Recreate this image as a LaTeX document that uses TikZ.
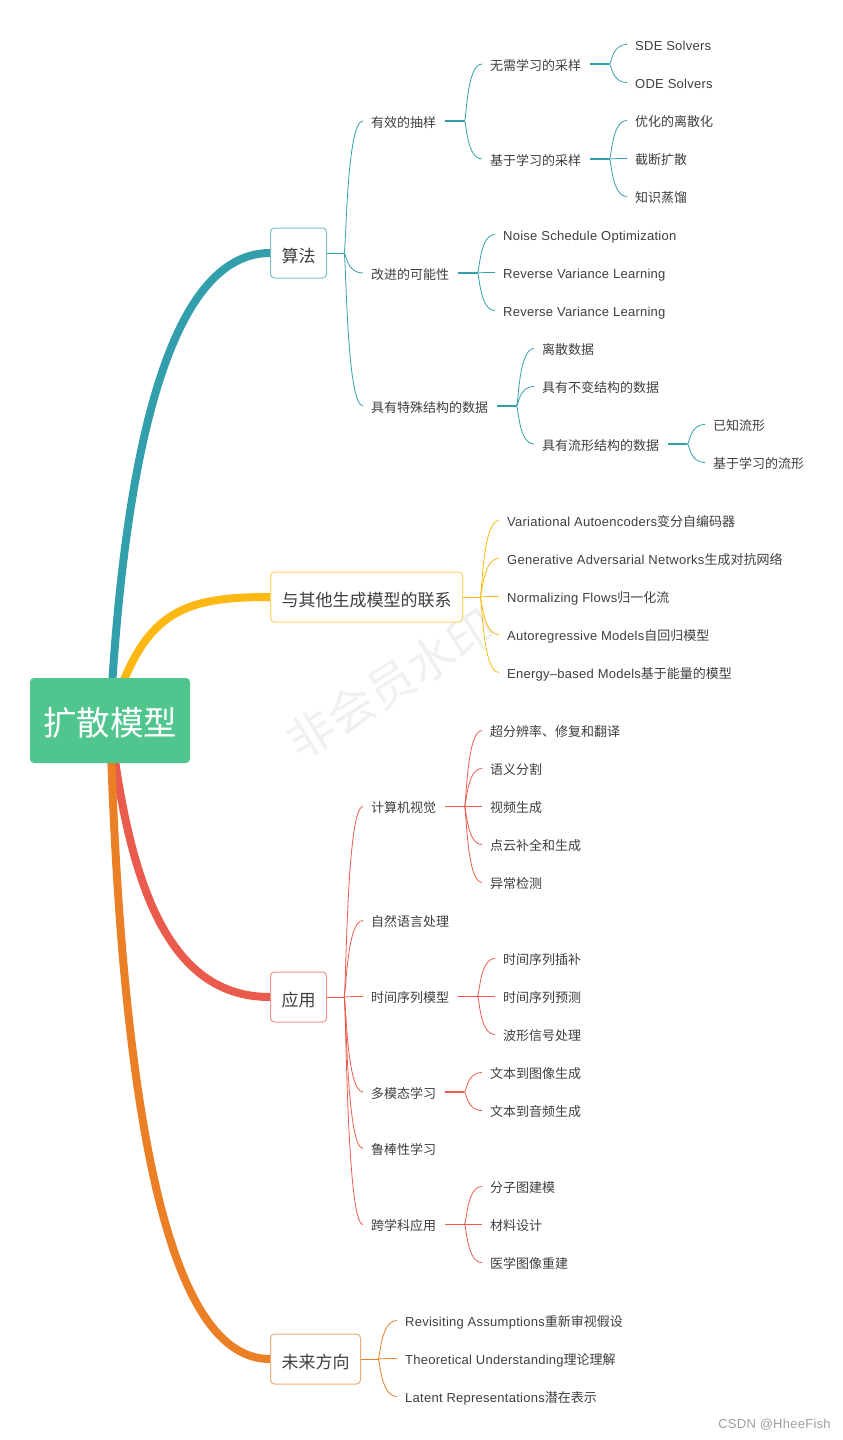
\documentclass[tikz,border=0pt]{standalone}
\usepackage{fontspec}
\setmainfont{Noto Sans CJK SC}
\newfontfamily\latf[LetterSpace=2]{Liberation Sans}
\newcommand{\lat}[1]{{\latf #1}}
\usetikzlibrary{backgrounds,calc}
\definecolor{cteal}{HTML}{339FAD}
\definecolor{cyel}{HTML}{FDB813}
\definecolor{cred}{HTML}{EB5B4D}
\definecolor{cora}{HTML}{EA7F25}
\definecolor{cgreen}{HTML}{50C58E}
\definecolor{ctxt}{HTML}{3E3E3E}
\tikzset{
  x=1pt,y=-1pt,
  rootbox/.style={fill=cgreen,rounded corners=4pt,text=white,inner sep=0pt,minimum width=160pt,minimum height=85pt,font=\fontsize{33.5pt}{36pt}\selectfont,text height=33pt,text depth=3pt},
  mainbox/.style={draw=#1!65,fill=white,line width=1pt,rounded corners=4pt,text=ctxt,inner sep=0pt,minimum height=50pt,font=\fontsize{17pt}{20pt}\selectfont,text height=23pt,text depth=4pt,anchor=west},
  leaf/.style={anchor=west,inner xsep=8pt,inner ysep=0pt,text=ctxt,font=\fontsize{13pt}{15pt}\selectfont,text height=15.4pt,text depth=3pt},
  thickline/.style={line width=8pt,#1},
  stubline/.style={line width=1.6pt,#1},
  thinstub/.style={line width=0.9pt,#1},
  twig/.style={line width=0.8pt,#1},
}
% parent stub end, child, colour: curve from stub end to the child's west anchor
\newcommand{\conn}[3]{\draw[twig=#3] let \p1=(#1),\p2=(#2.west),\n1={\x1+0.12*(\x2-\x1)} in (#1) .. controls (\n1,\y1) and (\n1,\y2) .. (#2.west);}
\newcommand{\stub}[2]{\draw[stubline=#2] ($(#1.east)+(1,0)$) -- ++(19,0) coordinate (#1s);}
\newcommand{\bstub}[3]{\draw[thinstub=#2] (#1.east) -- ++(#3,0) coordinate (#1s);}
\begin{document}
\begin{tikzpicture}
\useasboundingbox (0,0) rectangle (843,1440);
% nodes
\node[rootbox] (root) at (110,720.5) {扩散模型};
\node[mainbox=cteal,minimum width=56pt] (A) at (270,253) {算法};
\node[mainbox=cyel,minimum width=192pt] (B) at (270,597) {与其他生成模型的联系};
\node[mainbox=cred,minimum width=56pt] (C) at (270,997) {应用};
\node[mainbox=cora,minimum width=90pt] (D) at (270,1359) {未来方向};
% algorithm
\node[leaf] (a1) at (363,121) {有效的抽样};
\node[leaf] (a2) at (363,273) {改进的可能性};
\node[leaf] (a3) at (363,406) {具有特殊结构的数据};
\node[leaf] (a11) at (482,64) {无需学习的采样};
\node[leaf] (a12) at (482,159) {基于学习的采样};
\node[leaf] (a111) at (627,44.5) {\lat{SDE Solvers}};
\node[leaf] (a112) at (627,82.5) {\lat{ODE Solvers}};
\node[leaf] (a121) at (627,120.5) {优化的离散化};
\node[leaf] (a122) at (627,158.5) {截断扩散};
\node[leaf] (a123) at (627,196.5) {知识蒸馏};
\node[leaf] (a21) at (495,234.5) {\lat{Noise Schedule Optimization}};
\node[leaf] (a22) at (495,272.5) {\lat{Reverse Variance Learning}};
\node[leaf] (a23) at (495,310.5) {\lat{Reverse Variance Learning}};
\node[leaf] (a31) at (534,348.5) {离散数据};
\node[leaf] (a32) at (534,386.5) {具有不变结构的数据};
\node[leaf] (a33) at (534,444) {具有流形结构的数据};
\node[leaf] (a331) at (705,424.5) {已知流形};
\node[leaf] (a332) at (705,462.5) {基于学习的流形};
% other models
\node[leaf] (b1) at (499,520.5) {\lat{Variational Autoencoders}变分自编码器};
\node[leaf] (b2) at (499,558.5) {\lat{Generative Adversarial Networks}生成对抗网络};
\node[leaf] (b3) at (499,596.5) {\lat{Normalizing Flows}归一化流};
\node[leaf] (b4) at (499,634.5) {\lat{Autoregressive Models}自回归模型};
\node[leaf] (b5) at (499,672.5) {\lat{Energy–based Models}基于能量的模型};
% applications
\node[leaf] (c1) at (363,806.5) {计算机视觉};
\node[leaf] (c2) at (363,920.5) {自然语言处理};
\node[leaf] (c3) at (363,996.5) {时间序列模型};
\node[leaf] (c4) at (363,1092) {多模态学习};
\node[leaf] (c5) at (363,1148.5) {鲁棒性学习};
\node[leaf] (c6) at (363,1224.5) {跨学科应用};
\node[leaf] (c11) at (482,730.5) {超分辨率、修复和翻译};
\node[leaf] (c12) at (482,768.5) {语义分割};
\node[leaf] (c13) at (482,806.5) {视频生成};
\node[leaf] (c14) at (482,844.5) {点云补全和生成};
\node[leaf] (c15) at (482,882.5) {异常检测};
\node[leaf] (c31) at (495,958.5) {时间序列插补};
\node[leaf] (c32) at (495,996.5) {时间序列预测};
\node[leaf] (c33) at (495,1034.5) {波形信号处理};
\node[leaf] (c41) at (482,1072.5) {文本到图像生成};
\node[leaf] (c42) at (482,1110.5) {文本到音频生成};
\node[leaf] (c61) at (482,1186.5) {分子图建模};
\node[leaf] (c62) at (482,1224.5) {材料设计};
\node[leaf] (c63) at (482,1262.5) {医学图像重建};
% future
\node[leaf] (d1) at (397,1320.5) {\lat{Revisiting Assumptions}重新审视假设};
\node[leaf] (d2) at (397,1358.5) {\lat{Theoretical Understanding}理论理解};
\node[leaf] (d3) at (397,1396.5) {\lat{Latent Representations}潜在表示};
% marks
\node[anchor=center,inner sep=0pt,text=ctxt!50,font=\fontsize{13pt}{15pt}\selectfont] (mark) at (774.5,1425) {\lat{CSDN @HheeFish}};
\begin{scope}[on background layer]
\node[rotate=32,inner sep=0pt,text=black!6,font=\fontsize{47pt}{50pt}\selectfont] (wm) at (391,684) {非会员水印};
\draw[thickline=cteal] (root.center) .. controls (128,380) and (190,253) .. (A.west);
\draw[thickline=cyel] (root.center) .. controls (142,612) and (180,597) .. (B.west);
\draw[thickline=cred] (root.center) .. controls (130,900) and (175,997) .. (C.west);
\draw[thickline=cora] (root.center) .. controls (125,1230) and (195,1359) .. (D.west);
\end{scope}
% connectors
\bstub{A}{cteal}{17}\bstub{B}{cyel}{17}\bstub{C}{cred}{17}\bstub{D}{cora}{17}
\foreach \pa/\co in {a1/cteal,a2/cteal,a3/cteal,a11/cteal,a12/cteal,a33/cteal,c1/cred,c3/cred,c4/cred,c6/cred}{\stub{\pa}{\co}}
\foreach \pa/\ki/\co in {A/a1/cteal,A/a2/cteal,A/a3/cteal,a1/a11/cteal,a1/a12/cteal,a11/a111/cteal,a11/a112/cteal,a12/a121/cteal,a12/a122/cteal,a12/a123/cteal,a2/a21/cteal,a2/a22/cteal,a2/a23/cteal,a3/a31/cteal,a3/a32/cteal,a3/a33/cteal,a33/a331/cteal,a33/a332/cteal,B/b1/cyel,B/b2/cyel,B/b3/cyel,B/b4/cyel,B/b5/cyel,C/c1/cred,C/c2/cred,C/c3/cred,C/c4/cred,C/c5/cred,C/c6/cred,c1/c11/cred,c1/c12/cred,c1/c13/cred,c1/c14/cred,c1/c15/cred,c3/c31/cred,c3/c32/cred,c3/c33/cred,c4/c41/cred,c4/c42/cred,c6/c61/cred,c6/c62/cred,c6/c63/cred,D/d1/cora,D/d2/cora,D/d3/cora}{\conn{\pa s}{\ki}{\co}}
\end{tikzpicture}
\end{document}
